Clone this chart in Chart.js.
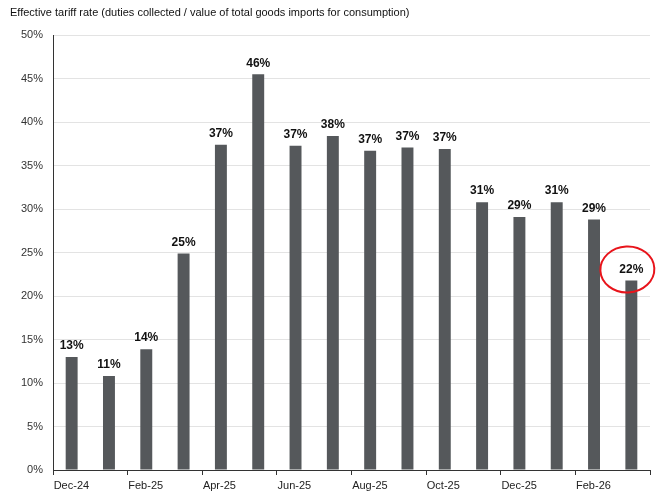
<!DOCTYPE html>
<html>
<head>
<meta charset="utf-8">
<script src="https://cdn.jsdelivr.net/npm/chart.js@4"></script>
<style>
  html, body { margin: 0; padding: 0; background: #fff; }
  #wrap { width: 667px; height: 499px; }
</style>
</head>
<body>
<div id="wrap"><canvas id="myChart" width="667" height="499"></canvas></div>
<script>
// Data
const months = ['Dec-24', 'Jan-25', 'Feb-25', 'Mar-25', 'Apr-25', 'May-25', 'Jun-25', 'Jul-25',
    'Aug-25', 'Sep-25', 'Oct-25', 'Nov-25', 'Dec-25', 'Jan-26', 'Feb-26', 'Mar-26'];
const tariffRate = [13.0, 10.8, 13.9, 24.9, 37.4, 45.5, 37.3, 38.4,
    36.7, 37.1, 36.9, 30.8, 29.1, 30.8, 28.8, 21.8];
const yTicks = [0, 5, 10, 15, 20, 25, 30, 35, 40, 45, 50];

const titleText = 'Effective tariff rate (duties collected / value of total goods imports for consumption)';
const fontFamily = "'Liberation Sans Narrow', 'Liberation Sans', Arial, sans-serif";

// value labels above bars + the red circle around the last one
const barLabels = {
    id: 'barLabels',
    afterDatasetsDraw(chart) {
        const ctx = chart.ctx;
        const meta = chart.getDatasetMeta(0);
        ctx.save();
        ctx.font = 'bold 12px ' + fontFamily;
        ctx.fillStyle = '#111';
        ctx.textAlign = 'center';
        ctx.textBaseline = 'bottom';
        meta.data.forEach((bar, i) => {
            ctx.fillText(Math.round(tariffRate[i]) + '%', bar.x, bar.y - 5);
        });
        const last = meta.data[meta.data.length - 1];
        ctx.strokeStyle = '#e8141b';
        ctx.lineWidth = 2;
        ctx.beginPath();
        ctx.ellipse(last.x - 4, last.y - 11, 27, 23, -0.05, 0, Math.PI * 2);
        ctx.stroke();
        ctx.restore();
    }
};

const ctx = document.getElementById('myChart').getContext('2d');
const myChart = new Chart(ctx, {
    type: 'bar',
    data: {
        labels: months,
        datasets: [{
            label: 'Effective tariff rate',
            data: tariffRate,
            backgroundColor: '#55585b',
            borderWidth: 0,
            barPercentage: 0.32,
            categoryPercentage: 1
        }]
    },
    options: {
        responsive: false,
        animation: false,
        layout: { padding: { left: 10, right: 17, top: 0, bottom: 0 } },
        plugins: {
            legend: { display: false },
            tooltip: { enabled: false },
            title: {
                display: true,
                text: titleText,
                align: 'start',
                color: '#111',
                font: { family: fontFamily, size: 11, weight: 'normal' },
                padding: { top: 6, bottom: 16 }
            }
        },
        scales: {
            x: {
                offset: true,
                grid: {
                    offset: true,
                    drawOnChartArea: false,
                    drawTicks: true,
                    tickLength: 5,
                    color: c => (c.type !== 'tick' || c.index % 2 === 0) ? '#333' : 'rgba(0,0,0,0)'
                },
                border: { color: '#333', width: 1 },
                ticks: {
                    autoSkip: false,
                    maxRotation: 0,
                    align: 'start',
                    labelOffset: -18,
                    padding: 4,
                    color: '#222',
                    font: { family: fontFamily, size: 11 },
                    callback: (v, i) => i % 2 === 0 ? months[i] : ''
                },
                afterFit: s => { s.height = 29; }
            },
            y: {
                min: 0,
                max: 50,
                afterBuildTicks: s => { s.ticks = yTicks.map(v => ({ value: v })); },
                grid: { color: '#e3e3e3', drawTicks: false },
                border: { color: '#333', width: 1 },
                ticks: {
                    padding: 10,
                    color: '#333',
                    font: { family: fontFamily, size: 11 },
                    callback: v => v + '%'
                },
                afterFit: s => { s.width = 43; }
            }
        }
    },
    plugins: [barLabels]
});
</script>
</body>
</html>
